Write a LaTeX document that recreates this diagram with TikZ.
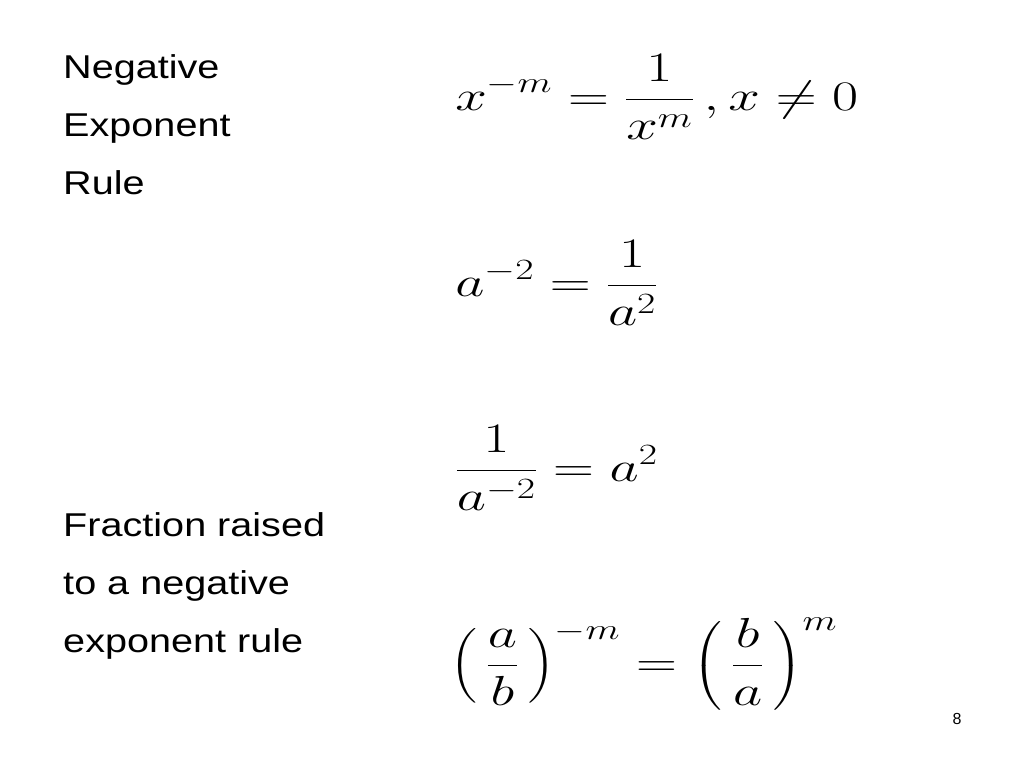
\RequirePackage{fix-cm}
\documentclass[tikz,border=0pt]{standalone}
\usepackage{amsmath}
\usepackage{fontspec}
\setsansfont{Liberation Sans}
\begin{document}
\begin{tikzpicture}[x=1pt,y=-1pt,
  lbl/.style={anchor=base west,inner sep=0pt,xscale=1.2,font=\sffamily\fontsize{33}{38}\selectfont},
  eq/.style={anchor=west,inner sep=0pt,xscale=1.35,font=\fontsize{42}{50}\selectfont}]
\useasboundingbox[fill=white] (0,0) rectangle (1024,768);
\node[lbl] (t1) at (63,78) {Negative};
\node[lbl] (t2) at (63,136) {Exponent};
\node[lbl] (t3) at (63,194) {Rule};
\node[lbl] (t4) at (63,536) {Fraction raised};
\node[lbl] (t5) at (63,594) {to a negative};
\node[lbl] (t6) at (63,652) {exponent rule};
\node[eq] (e1) at (455,97) {$\displaystyle x^{-m}=\frac{1}{x^{m}}\,,x\neq 0$};
\node[eq] (e2) at (455,283) {$\displaystyle a^{-2}=\frac{1}{a^{2}}$};
\node[eq] (e3) at (455,468) {$\displaystyle \frac{1}{a^{-2}}=a^{2}$};
\node[eq] (e4) at (450,664) {$\displaystyle \left(\,\frac{a}{b}\,\right)^{-m}=\left(\,\frac{b}{a}\,\right)^{m}$};
\node[anchor=base,inner sep=0pt,font=\sffamily\fontsize{16}{18}\selectfont] (pg) at (957,724) {8};
\end{tikzpicture}
\end{document}
